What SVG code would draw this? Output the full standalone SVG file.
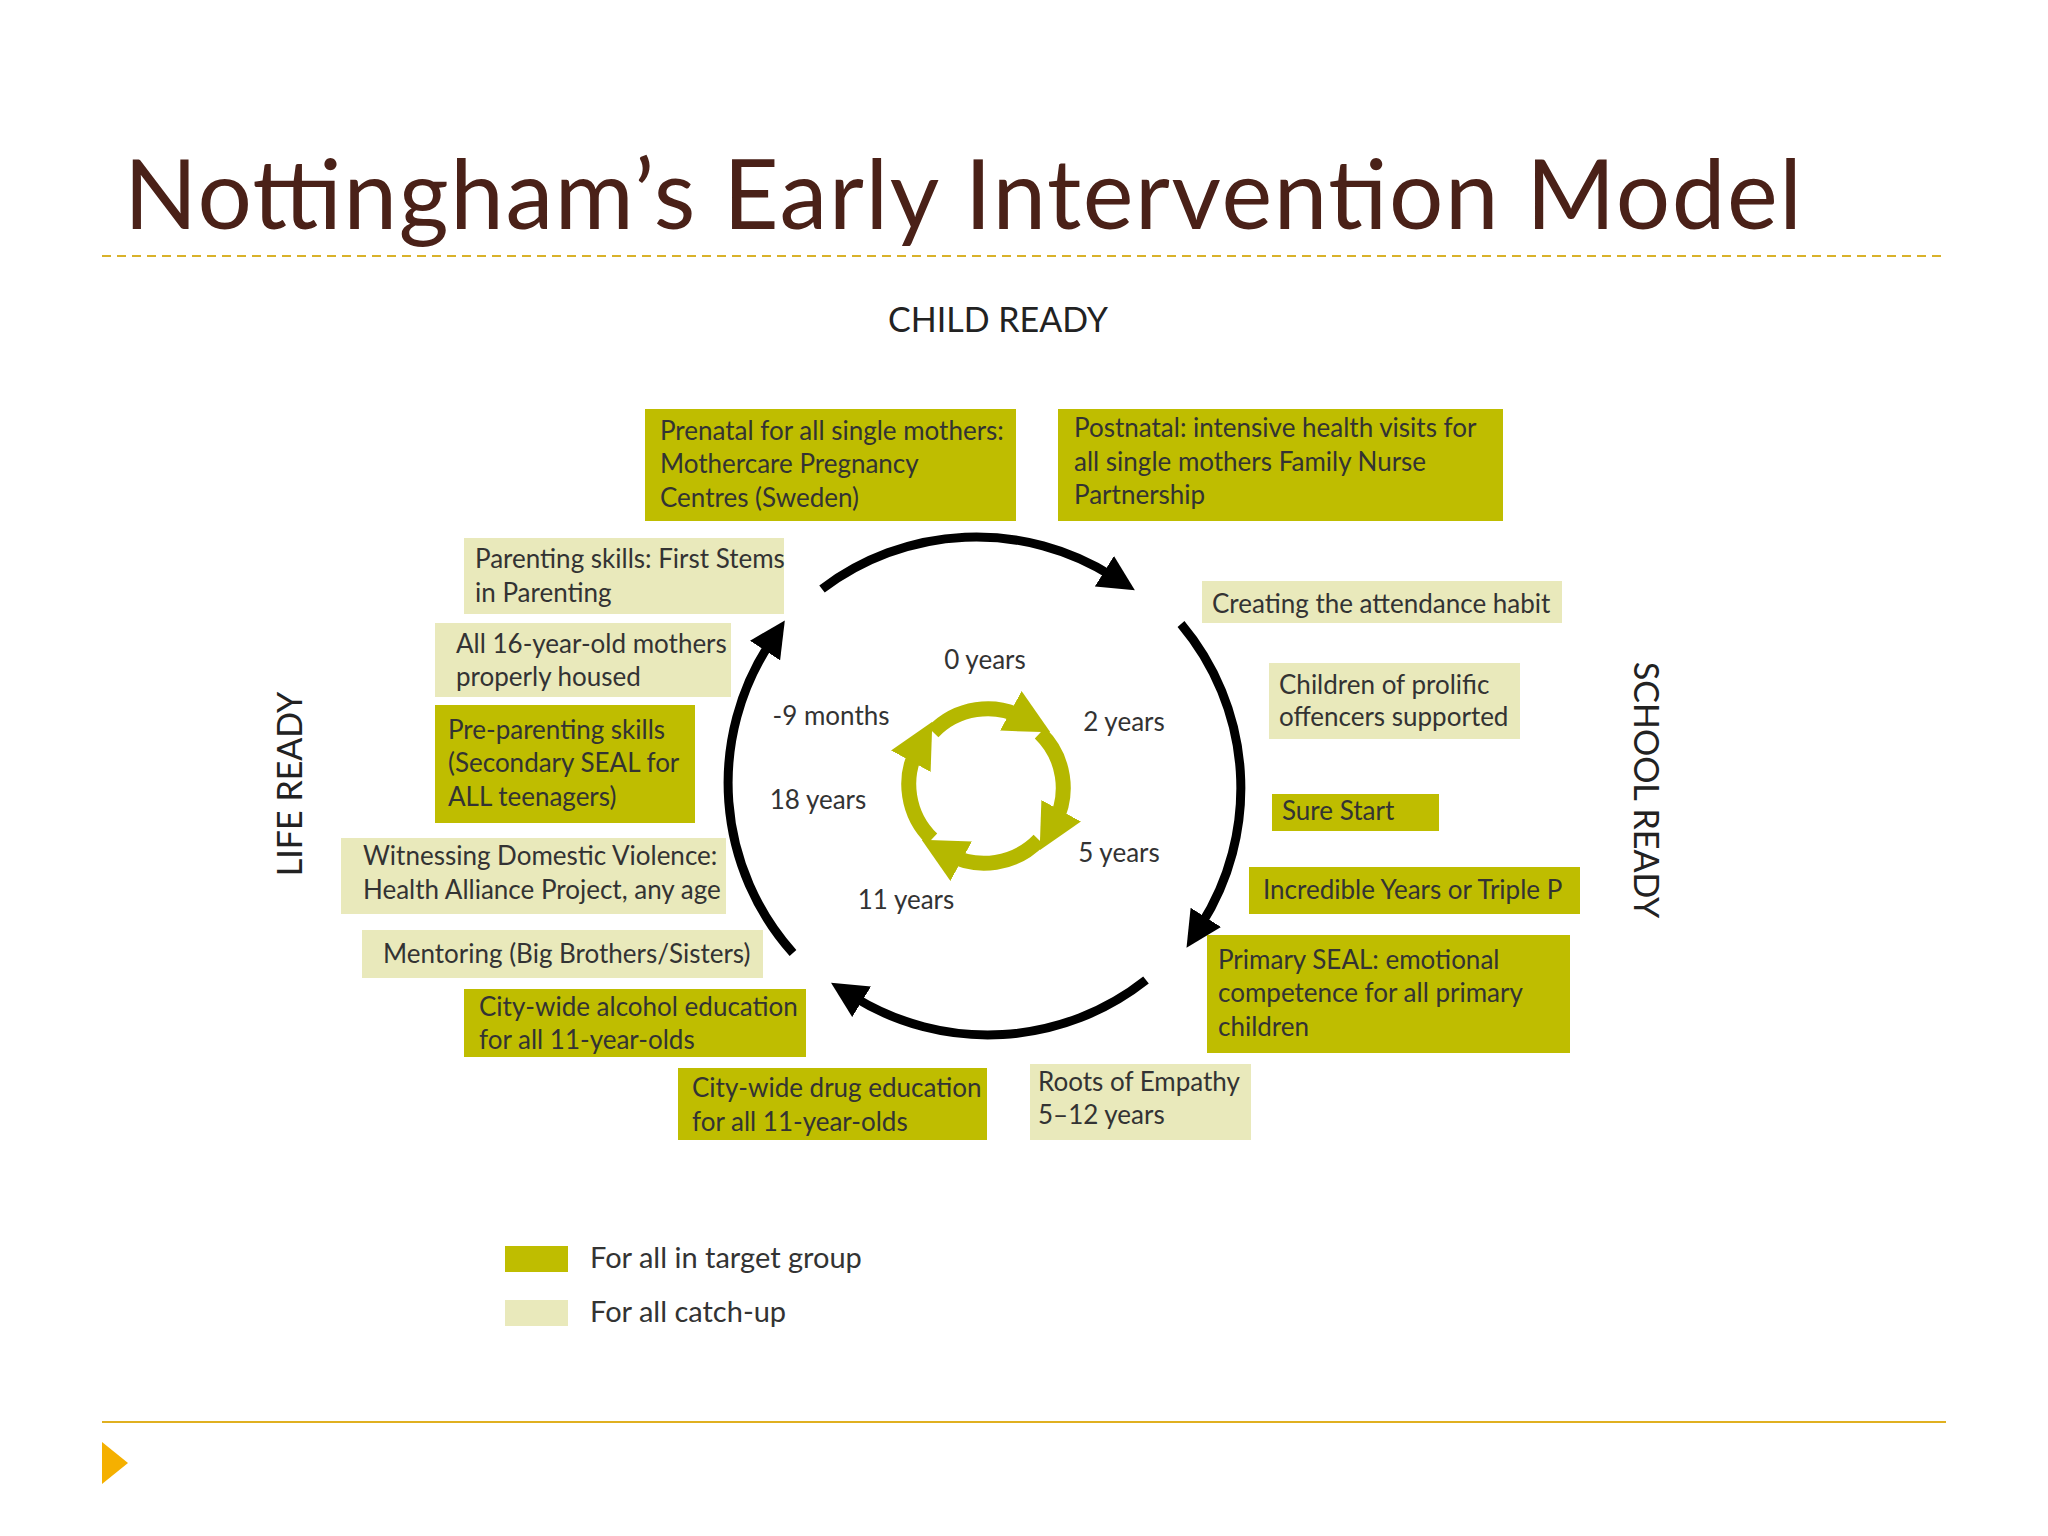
<svg xmlns="http://www.w3.org/2000/svg" width="2048" height="1536" viewBox="0 0 2048 1536">
<style>
.d{fill:#bfbd00}.l{fill:#e9e9bb}
text{font-family:Lato,"Open Sans","Liberation Sans",sans-serif;fill:#333}
.t{font-size:26px}
.lab{font-size:34px;fill:#222}
</style>
<defs>
<marker id="ab" markerWidth="4" markerHeight="4" refX="1" refY="2" orient="auto" markerUnits="strokeWidth"><path d="M0,0 L4,2 L0,4 z" fill="#000"/></marker>
<marker id="ay" markerWidth="3" markerHeight="3" refX="1" refY="1.5" orient="auto" markerUnits="strokeWidth"><path d="M0,0 L3,1.5 L0,3 z" fill="#b5b800"/></marker>
</defs>
<rect width="2048" height="1536" fill="#fff"/>
<text x="124" y="229" font-size="96" textLength="1678" style="fill:#4a2118">Nottingham’s Early Intervention Model</text>
<line x1="102" y1="256" x2="1946" y2="256" stroke="#d9b22a" stroke-width="2" stroke-dasharray="9,6"/>
<line x1="102" y1="1422" x2="1946" y2="1422" stroke="#e0b020" stroke-width="2"/>
<polygon points="102,1442 128,1463 102,1484" fill="#f5b000"/>
<text class="lab" x="998" y="332" text-anchor="middle">CHILD READY</text>
<text class="lab" transform="translate(302,784) rotate(-90)" text-anchor="middle">LIFE READY</text>
<text class="lab" transform="translate(1634,790) rotate(90)" text-anchor="middle">SCHOOL READY</text>
<g id="connectors" fill="none">
<g stroke="#000" stroke-width="9">
<path d="M822,589 A255,255 0 0 1 1112,576" marker-end="url(#ab)"/>
<path d="M1181,624 A255,255 0 0 1 1201,925" marker-end="url(#ab)"/>
<path d="M1146,980 A255,255 0 0 1 854,997" marker-end="url(#ab)"/>
<path d="M793,953 A255,255 0 0 1 770,643" marker-end="url(#ab)"/>
</g>
<g stroke="#b5b800" stroke-width="15">
<path d="M933,732 A76,76 0 0 1 1024,718" marker-end="url(#ay)"/>
<path d="M1040,733 A76,76 0 0 1 1054,824" marker-end="url(#ay)"/>
<path d="M1039,840 A76,76 0 0 1 948,854" marker-end="url(#ay)"/>
<path d="M932,839 A76,76 0 0 1 918,748" marker-end="url(#ay)"/>
</g>
</g>
<g class="t">
<text x="985" y="669" text-anchor="middle">0 years</text>
<text x="1124" y="731" text-anchor="middle">2 years</text>
<text x="1119" y="862" text-anchor="middle">5 years</text>
<text x="906" y="909" text-anchor="middle">11 years</text>
<text x="818" y="809" text-anchor="middle">18 years</text>
<text x="831" y="725" text-anchor="middle">-9 months</text>
</g>
<g id="prenatal" class="t"><rect class="d" x="645" y="409" width="371" height="112"/><text x="660" y="440">Prenatal for all single mothers:</text><text x="660" y="473">Mothercare Pregnancy</text><text x="660" y="507">Centres (Sweden)</text></g>
<g id="postnatal" class="t"><rect class="d" x="1058" y="409" width="445" height="112"/><text x="1074" y="437">Postnatal: intensive health visits for</text><text x="1074" y="471">all single mothers Family Nurse</text><text x="1074" y="504">Partnership</text></g>
<g id="parenting" class="t"><rect class="l" x="464" y="538" width="320" height="76"/><text x="475" y="568">Parenting skills: First Stems</text><text x="475" y="602">in Parenting</text></g>
<g id="mothers16" class="t"><rect class="l" x="435" y="623" width="296" height="74"/><text x="456" y="653">All 16-year-old mothers</text><text x="456" y="686">properly housed</text></g>
<g id="preparenting" class="t"><rect class="d" x="435" y="705" width="260" height="118"/><text x="448" y="739">Pre-parenting skills</text><text x="448" y="772">(Secondary SEAL for</text><text x="448" y="806">ALL teenagers)</text></g>
<g id="witnessing" class="t"><rect class="l" x="341" y="838" width="385" height="76"/><text x="363" y="865">Witnessing Domestic Violence:</text><text x="363" y="899">Health Alliance Project, any age</text></g>
<g id="mentoring" class="t"><rect class="l" x="362" y="930" width="401" height="48"/><text x="383" y="963">Mentoring (Big Brothers/Sisters)</text></g>
<g id="alcohol" class="t"><rect class="d" x="464" y="989" width="342" height="68"/><text x="479" y="1016">City-wide alcohol education</text><text x="479" y="1049">for all 11-year-olds</text></g>
<g id="drug" class="t"><rect class="d" x="678" y="1068" width="309" height="72"/><text x="692" y="1097">City-wide drug education</text><text x="692" y="1131">for all 11-year-olds</text></g>
<g id="roots" class="t"><rect class="l" x="1030" y="1064" width="221" height="76"/><text x="1038" y="1091">Roots of Empathy</text><text x="1038" y="1124">5–12 years</text></g>
<g id="creating" class="t"><rect class="l" x="1202" y="581" width="360" height="42"/><text x="1212" y="613">Creating the attendance habit</text></g>
<g id="children" class="t"><rect class="l" x="1269" y="663" width="251" height="76"/><text x="1279" y="694">Children of prolific</text><text x="1279" y="726">offencers supported</text></g>
<g id="surestart" class="t"><rect class="d" x="1272" y="794" width="167" height="37"/><text x="1282" y="820">Sure Start</text></g>
<g id="incredible" class="t"><rect class="d" x="1249" y="867" width="331" height="47"/><text x="1263" y="899">Incredible Years or Triple P</text></g>
<g id="primaryseal" class="t"><rect class="d" x="1207" y="935" width="363" height="118"/><text x="1218" y="969">Primary SEAL: emotional</text><text x="1218" y="1002">competence for all primary</text><text x="1218" y="1036">children</text></g>
<g id="legend" font-size="29">
<rect class="d" x="505" y="1246" width="63" height="26"/><text x="590" y="1268" font-size="29">For all in target group</text>
<rect class="l" x="505" y="1300" width="63" height="26"/><text x="590" y="1322" font-size="29">For all catch-up</text>
</g>
</svg>
